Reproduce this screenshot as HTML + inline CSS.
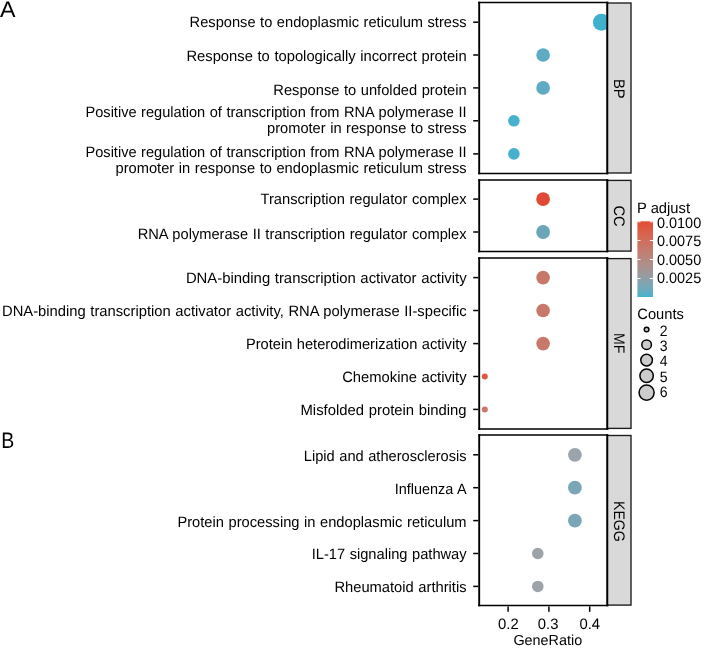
<!DOCTYPE html>
<html lang="en"><head><meta charset="utf-8"><title>GO and KEGG enrichment dot plot</title>
<style>html,body{margin:0;padding:0;background:#fff}body{width:704px;height:648px;overflow:hidden}svg{display:block}text{font-family:"Liberation Sans",Arial,Helvetica,sans-serif;font-size:15px;fill:#000;text-rendering:geometricPrecision}.yl{word-spacing:0.5px}</style></head><body>
<svg width="704" height="648" viewBox="0 0 704 648">
<rect width="704" height="648" fill="#fff"/>
<defs>
<linearGradient id="pg" x1="0" y1="1" x2="0" y2="0">
<stop offset="0.00" stop-color="#42b3ce"/>
<stop offset="0.05" stop-color="#5aafc6"/>
<stop offset="0.10" stop-color="#6cabbe"/>
<stop offset="0.15" stop-color="#7aa7b6"/>
<stop offset="0.20" stop-color="#86a2ae"/>
<stop offset="0.25" stop-color="#919ea6"/>
<stop offset="0.30" stop-color="#9a9a9e"/>
<stop offset="0.35" stop-color="#a29596"/>
<stop offset="0.40" stop-color="#aa918f"/>
<stop offset="0.45" stop-color="#b18c87"/>
<stop offset="0.50" stop-color="#b7877f"/>
<stop offset="0.55" stop-color="#bd8278"/>
<stop offset="0.60" stop-color="#c27d70"/>
<stop offset="0.65" stop-color="#c77869"/>
<stop offset="0.70" stop-color="#cc7261"/>
<stop offset="0.75" stop-color="#d06d5a"/>
<stop offset="0.80" stop-color="#d56752"/>
<stop offset="0.85" stop-color="#d9614b"/>
<stop offset="0.90" stop-color="#dc5a43"/>
<stop offset="0.95" stop-color="#e0533c"/>
<stop offset="1.00" stop-color="#e34b34"/>
</linearGradient>
<clipPath id="cBP"><rect x="479.2" y="2.5" width="128.09999999999997" height="171.0"/></clipPath>
<clipPath id="cCC"><rect x="479.2" y="179.9" width="128.09999999999997" height="71.69999999999999"/></clipPath>
<clipPath id="cMF"><rect x="479.2" y="258.1" width="128.09999999999997" height="170.79999999999995"/></clipPath>
<clipPath id="cKEGG"><rect x="479.2" y="435.0" width="128.09999999999997" height="170.60000000000002"/></clipPath>
</defs>
<text x="-0.1" y="16.9" textLength="15.5" lengthAdjust="spacingAndGlyphs" style="font-size:22.4px;fill:#000">A</text>
<text x="1.3" y="448.0" textLength="13.0" lengthAdjust="spacingAndGlyphs" style="font-size:22.4px;fill:#000">B</text>
<rect x="607.3" y="3.0" width="23.700000000000045" height="170.0" fill="#d9d9d9" stroke="#1a1a1a" stroke-width="1.35"/>
<text transform="translate(613.9 78.9) rotate(90)" textLength="19.7" lengthAdjust="spacingAndGlyphs" style="font-size:15.3px">BP</text>
<rect x="607.3" y="180.4" width="23.700000000000045" height="70.69999999999999" fill="#d9d9d9" stroke="#1a1a1a" stroke-width="1.35"/>
<text transform="translate(613.9 205.4) rotate(90)" textLength="21.3" lengthAdjust="spacingAndGlyphs" style="font-size:15.3px">CC</text>
<rect x="607.3" y="258.6" width="23.700000000000045" height="169.79999999999995" fill="#d9d9d9" stroke="#1a1a1a" stroke-width="1.35"/>
<text transform="translate(613.9 333.0) rotate(90)" textLength="20.4" lengthAdjust="spacingAndGlyphs" style="font-size:15.3px">MF</text>
<rect x="607.3" y="435.5" width="23.700000000000045" height="169.60000000000002" fill="#d9d9d9" stroke="#1a1a1a" stroke-width="1.35"/>
<text transform="translate(613.9 501.0) rotate(90)" textLength="40.8" lengthAdjust="spacingAndGlyphs" style="font-size:15.3px">KEGG</text>
<circle cx="601.4" cy="22.2" r="8.5" fill="#3fb1cc" clip-path="url(#cBP)"/>
<circle cx="543.1" cy="55.0" r="6.85" fill="#5eabc4" clip-path="url(#cBP)"/>
<circle cx="543.1" cy="87.9" r="6.85" fill="#5eabc4" clip-path="url(#cBP)"/>
<circle cx="513.9" cy="120.8" r="5.8" fill="#45b1cc" clip-path="url(#cBP)"/>
<circle cx="513.9" cy="153.9" r="5.8" fill="#45b1cc" clip-path="url(#cBP)"/>
<circle cx="543.1" cy="199.1" r="6.9" fill="#e04a35" clip-path="url(#cCC)"/>
<circle cx="543.1" cy="232.0" r="6.9" fill="#6ba6b8" clip-path="url(#cCC)"/>
<circle cx="543.1" cy="277.6" r="6.8" fill="#c8776b" clip-path="url(#cMF)"/>
<circle cx="543.1" cy="310.5" r="6.8" fill="#c8776b" clip-path="url(#cMF)"/>
<circle cx="543.1" cy="343.6" r="6.8" fill="#c8776b" clip-path="url(#cMF)"/>
<circle cx="484.8" cy="376.5" r="3.0" fill="#dc5a42" clip-path="url(#cMF)"/>
<circle cx="484.8" cy="409.4" r="3.0" fill="#c9776a" clip-path="url(#cMF)"/>
<circle cx="574.9" cy="454.8" r="6.9" fill="#9ba3ad" clip-path="url(#cKEGG)"/>
<circle cx="574.9" cy="487.7" r="6.9" fill="#7ba6b6" clip-path="url(#cKEGG)"/>
<circle cx="574.9" cy="520.6" r="6.9" fill="#7ba6b6" clip-path="url(#cKEGG)"/>
<circle cx="537.8" cy="553.5" r="5.75" fill="#9ea3a9" clip-path="url(#cKEGG)"/>
<circle cx="537.8" cy="586.4" r="5.75" fill="#9ea3a9" clip-path="url(#cKEGG)"/>
<path d="M479.2 1.75V174.25M607.3 1.75V174.25" fill="none" stroke="#000" stroke-width="1.9"/>
<path d="M478.25 2.5H608.25M478.25 173.5H608.25" fill="none" stroke="#000" stroke-width="1.5"/>
<path d="M479.2 179.15V252.35M607.3 179.15V252.35" fill="none" stroke="#000" stroke-width="1.9"/>
<path d="M478.25 179.9H608.25M478.25 251.6H608.25" fill="none" stroke="#000" stroke-width="1.5"/>
<path d="M479.2 257.35V429.65M607.3 257.35V429.65" fill="none" stroke="#000" stroke-width="1.9"/>
<path d="M478.25 258.1H608.25M478.25 428.9H608.25" fill="none" stroke="#000" stroke-width="1.5"/>
<path d="M479.2 434.25V606.35M607.3 434.25V606.35" fill="none" stroke="#000" stroke-width="1.9"/>
<path d="M478.25 435.0H608.25M478.25 605.6H608.25" fill="none" stroke="#000" stroke-width="1.5"/>
<line x1="473.2" x2="478.2" y1="22.2" y2="22.2" stroke="#000" stroke-width="1.5"/>
<line x1="473.2" x2="478.2" y1="55.0" y2="55.0" stroke="#000" stroke-width="1.5"/>
<line x1="473.2" x2="478.2" y1="87.9" y2="87.9" stroke="#000" stroke-width="1.5"/>
<line x1="473.2" x2="478.2" y1="120.8" y2="120.8" stroke="#000" stroke-width="1.5"/>
<line x1="473.2" x2="478.2" y1="153.9" y2="153.9" stroke="#000" stroke-width="1.5"/>
<line x1="473.2" x2="478.2" y1="199.1" y2="199.1" stroke="#000" stroke-width="1.5"/>
<line x1="473.2" x2="478.2" y1="232.0" y2="232.0" stroke="#000" stroke-width="1.5"/>
<line x1="473.2" x2="478.2" y1="277.6" y2="277.6" stroke="#000" stroke-width="1.5"/>
<line x1="473.2" x2="478.2" y1="310.5" y2="310.5" stroke="#000" stroke-width="1.5"/>
<line x1="473.2" x2="478.2" y1="343.6" y2="343.6" stroke="#000" stroke-width="1.5"/>
<line x1="473.2" x2="478.2" y1="376.5" y2="376.5" stroke="#000" stroke-width="1.5"/>
<line x1="473.2" x2="478.2" y1="409.4" y2="409.4" stroke="#000" stroke-width="1.5"/>
<line x1="473.2" x2="478.2" y1="454.8" y2="454.8" stroke="#000" stroke-width="1.5"/>
<line x1="473.2" x2="478.2" y1="487.7" y2="487.7" stroke="#000" stroke-width="1.5"/>
<line x1="473.2" x2="478.2" y1="520.6" y2="520.6" stroke="#000" stroke-width="1.5"/>
<line x1="473.2" x2="478.2" y1="553.5" y2="553.5" stroke="#000" stroke-width="1.5"/>
<line x1="473.2" x2="478.2" y1="586.4" y2="586.4" stroke="#000" stroke-width="1.5"/>
<line x1="508.1" x2="508.1" y1="606.4" y2="611.8" stroke="#000" stroke-width="1.5"/>
<text x="498.1" y="629.0" textLength="20.6" lengthAdjust="spacingAndGlyphs" style="font-size:15.1px">0.2</text>
<line x1="548.9" x2="548.9" y1="606.4" y2="611.8" stroke="#000" stroke-width="1.5"/>
<text x="537.8" y="629.0" textLength="20.6" lengthAdjust="spacingAndGlyphs" style="font-size:15.1px">0.3</text>
<line x1="589.7" x2="589.7" y1="606.4" y2="611.8" stroke="#000" stroke-width="1.5"/>
<text x="579.4" y="629.0" textLength="20.6" lengthAdjust="spacingAndGlyphs" style="font-size:15.1px">0.4</text>
<text x="513.4" y="645.0" textLength="68.8" lengthAdjust="spacingAndGlyphs" style="font-size:14.5px">GeneRatio</text>
<text class="yl" x="189.60" y="26.8" textLength="277.00" lengthAdjust="spacingAndGlyphs">Response to endoplasmic reticulum stress</text>
<text class="yl" x="186.40" y="60.75" textLength="280.20" lengthAdjust="spacingAndGlyphs">Response to topologically incorrect protein</text>
<text class="yl" x="273.30" y="94.5" textLength="193.30" lengthAdjust="spacingAndGlyphs">Response to unfolded protein</text>
<text class="yl" x="85.50" y="116.85" textLength="381.10" lengthAdjust="spacingAndGlyphs">Positive regulation of transcription from RNA polymerase II</text>
<text class="yl" x="267.10" y="132.9" textLength="199.50" lengthAdjust="spacingAndGlyphs">promoter in response to stress</text>
<text class="yl" x="85.50" y="156.7" textLength="381.10" lengthAdjust="spacingAndGlyphs">Positive regulation of transcription from RNA polymerase II</text>
<text class="yl" x="115.50" y="173.35" textLength="351.10" lengthAdjust="spacingAndGlyphs">promoter in response to endoplasmic reticulum stress</text>
<text class="yl" x="260.50" y="203.6" textLength="206.10" lengthAdjust="spacingAndGlyphs">Transcription regulator complex</text>
<text class="yl" x="137.70" y="238.7" textLength="328.90" lengthAdjust="spacingAndGlyphs">RNA polymerase II transcription regulator complex</text>
<text class="yl" x="185.90" y="283.4" textLength="280.70" lengthAdjust="spacingAndGlyphs">DNA-binding transcription activator activity</text>
<text class="yl" x="2.00" y="316.0" textLength="464.60" lengthAdjust="spacingAndGlyphs">DNA-binding transcription activator activity, RNA polymerase II-specific</text>
<text class="yl" x="245.90" y="349.0" textLength="220.70" lengthAdjust="spacingAndGlyphs">Protein heterodimerization activity</text>
<text class="yl" x="342.20" y="382.0" textLength="124.40" lengthAdjust="spacingAndGlyphs">Chemokine activity</text>
<text class="yl" x="300.50" y="415.3" textLength="166.10" lengthAdjust="spacingAndGlyphs">Misfolded protein binding</text>
<text class="yl" x="303.80" y="460.5" textLength="162.80" lengthAdjust="spacingAndGlyphs">Lipid and atherosclerosis</text>
<text class="yl" x="394.80" y="493.8" textLength="71.80" lengthAdjust="spacingAndGlyphs">Influenza A</text>
<text class="yl" x="177.40" y="526.6" textLength="289.20" lengthAdjust="spacingAndGlyphs">Protein processing in endoplasmic reticulum</text>
<text class="yl" x="311.70" y="558.6" textLength="154.90" lengthAdjust="spacingAndGlyphs">IL-17 signaling pathway</text>
<text class="yl" x="334.40" y="591.9" textLength="132.20" lengthAdjust="spacingAndGlyphs">Rheumatoid arthritis</text>
<text x="637.0" y="212.5" textLength="53.0" lengthAdjust="spacingAndGlyphs">P adjust</text>
<rect x="637.4" y="221.3" width="15.6" height="75.7" fill="url(#pg)"/>
<line x1="637.4" x2="640.5" y1="221.8" y2="221.8" stroke="#fff" stroke-width="1"/>
<line x1="649.8" x2="653.0" y1="221.8" y2="221.8" stroke="#fff" stroke-width="1"/>
<line x1="637.4" x2="640.5" y1="240.5" y2="240.5" stroke="#fff" stroke-width="1"/>
<line x1="649.8" x2="653.0" y1="240.5" y2="240.5" stroke="#fff" stroke-width="1"/>
<line x1="637.4" x2="640.5" y1="259.5" y2="259.5" stroke="#fff" stroke-width="1"/>
<line x1="649.8" x2="653.0" y1="259.5" y2="259.5" stroke="#fff" stroke-width="1"/>
<line x1="637.4" x2="640.5" y1="278.5" y2="278.5" stroke="#fff" stroke-width="1"/>
<line x1="649.8" x2="653.0" y1="278.5" y2="278.5" stroke="#fff" stroke-width="1"/>
<text x="656.9" y="227.6" textLength="44.3" lengthAdjust="spacingAndGlyphs">0.0100</text>
<text x="656.9" y="245.8" textLength="44.3" lengthAdjust="spacingAndGlyphs">0.0075</text>
<text x="656.9" y="264.6" textLength="44.3" lengthAdjust="spacingAndGlyphs">0.0050</text>
<text x="656.9" y="282.7" textLength="44.3" lengthAdjust="spacingAndGlyphs">0.0025</text>
<text x="637.3" y="318.7" textLength="46.6" lengthAdjust="spacingAndGlyphs">Counts</text>
<circle cx="646.6" cy="329.5" r="2.3" fill="#cccccc" stroke="#000" stroke-width="1.5"/>
<text x="659.7" y="335.8" textLength="7.8" lengthAdjust="spacingAndGlyphs">2</text>
<circle cx="646.6" cy="344.7" r="4.8" fill="#cccccc" stroke="#000" stroke-width="1.5"/>
<text x="659.7" y="351.0" textLength="7.8" lengthAdjust="spacingAndGlyphs">3</text>
<circle cx="646.6" cy="360.1" r="5.8" fill="#cccccc" stroke="#000" stroke-width="1.5"/>
<text x="659.7" y="366.1" textLength="7.8" lengthAdjust="spacingAndGlyphs">4</text>
<circle cx="646.6" cy="375.8" r="6.7" fill="#cccccc" stroke="#000" stroke-width="1.5"/>
<text x="659.7" y="381.6" textLength="7.8" lengthAdjust="spacingAndGlyphs">5</text>
<circle cx="646.6" cy="392.6" r="7.55" fill="#cccccc" stroke="#000" stroke-width="1.5"/>
<text x="659.7" y="397.0" textLength="7.8" lengthAdjust="spacingAndGlyphs">6</text>
</svg></body></html>
